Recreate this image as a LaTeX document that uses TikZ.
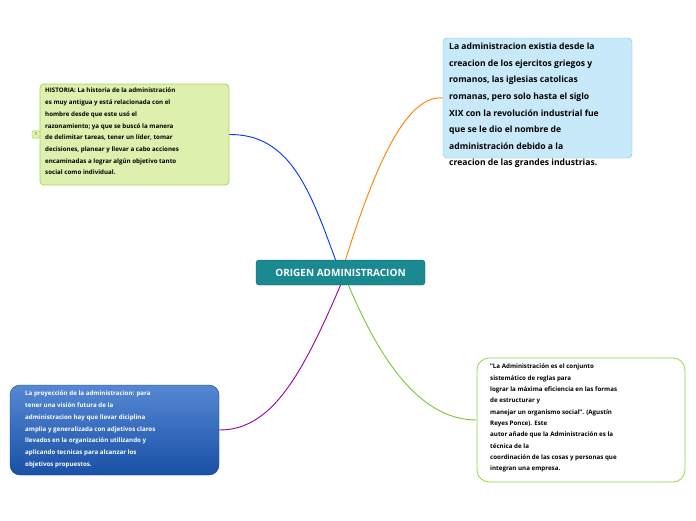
\documentclass[tikz,border=0pt]{standalone}
\usepackage{fontspec}
\setmainfont{Open Sans}
\usetikzlibrary{shapes.misc}
\definecolor{teal1}{HTML}{1A8A90}
\definecolor{lblue}{HTML}{C8E9FA}
\definecolor{bblue}{HTML}{7CC4EC}
\definecolor{lgreen}{HTML}{DDF0AE}
\definecolor{ggreen}{HTML}{A8D65A}
\definecolor{dblue}{HTML}{1D5FC4}
\definecolor{brgreen}{HTML}{8FDA3C}
\begin{document}
\begin{tikzpicture}[x=1pt,y=-1pt,
  txt/.style={align=left,font=\bfseries,inner sep=0pt,anchor=north west},
  conn/.style={line width=0.9pt}]
\useasboundingbox (0,0) rectangle (696,520);
\fill[white] (0,0) rectangle (696,520);
% boxes
\node[draw=teal1!70!black,fill=teal1,rounded corners=3pt,minimum width=169pt,minimum height=25pt,inner sep=0pt,font=\bfseries\fontsize{10}{12}\selectfont,text=white] (c) at (340.5,272.5) {ORIGEN ADMINISTRACION};
\node[draw=bblue,fill=lblue,rounded corners=4pt,minimum width=189pt,minimum height=120pt,inner sep=0pt] (tr) at (537.5,98) {};
\node[txt,font=\bfseries\fontsize{8.6}{16.6}\selectfont] at (449,43) {La administracion existia desde la\\creacion de los ejercitos griegos y\\romanos, las iglesias catolicas\\romanas, pero solo hasta el siglo\\XIX con la revolución industrial fue\\que se le dio el nombre de\\administración debido a la\\creacion de las grandes industrias.};
\node[draw=ggreen,fill=lgreen,rounded corners=4pt,minimum width=189pt,minimum height=101pt,inner sep=0pt,line width=0.8pt] (tl) at (134.5,134.5) {};
\node[txt,font=\bfseries\fontsize{6.2}{11.7}\selectfont] at (45,88) {HISTORIA: La historia de la administración\\es muy antigua y está relacionada con el\\hombre desde que este usó el\\razonamiento; ya que se buscó la manera\\de delimitar tareas, tener un líder, tomar\\decisiones, planear y llevar a cabo acciones\\encaminadas a lograr algún objetivo tanto\\social como individual.};
\node[draw=ggreen,fill=lgreen,rounded corners=1.5pt,minimum width=8pt,minimum height=8pt,inner sep=0pt,font=\fontsize{4}{4}\selectfont] (badge) at (36,134.5) {1};
\node[draw=dblue!70!black,top color=dblue!75!white,bottom color=dblue!85!black,rounded corners=10pt,minimum width=209pt,minimum height=90pt,inner sep=0pt] (bl) at (114.5,430) {};
\node[txt,text=white,font=\bfseries\fontsize{6.2}{11.7}\selectfont] at (25,391) {La proyección de la administracion: para\\tener una visión futura de la\\administracion hay que llevar diciplina\\amplia y generalizada con adjetivos claros\\llevados en la organización utilizando y\\aplicando tecnicas para alcanzar los\\objetivos propuestos.};
\node[draw=brgreen,fill=white,rounded corners=12pt,minimum width=208pt,minimum height=124pt,inner sep=0pt,line width=0.8pt] (br) at (581,420) {};
\node[txt,font=\bfseries\fontsize{6.2}{11.3}\selectfont] at (490,364) {"La Administración es el conjunto\\sistemático de reglas para\\lograr la máxima eficiencia en las formas\\de estructurar y\\manejar un organismo social". (Agustín\\Reyes Ponce). Este\\autor añade que la Administración es la\\técnica de la\\coordinación de las cosas y personas que\\integran una empresa.};
% connectors
\draw[conn,draw=blue!80!cyan] (c.north) ++(-5,0) coordinate (c1) .. controls (310,190) and (290,134) .. (tl.east);
\draw[conn,draw=orange] (c.north) ++(5,0) coordinate (c2) .. controls (380,150) and (410,95) .. (tr.west);
\draw[conn,draw=violet!80!magenta] (c.south) ++(0,0) coordinate (c3) .. controls (300,380) and (270,430) .. (bl.east);
\draw[conn,draw=brgreen!90!black] (c.south) ++(8,0) coordinate (c4) .. controls (380,360) and (420,420) .. (br.west);
\end{tikzpicture}
\end{document}
